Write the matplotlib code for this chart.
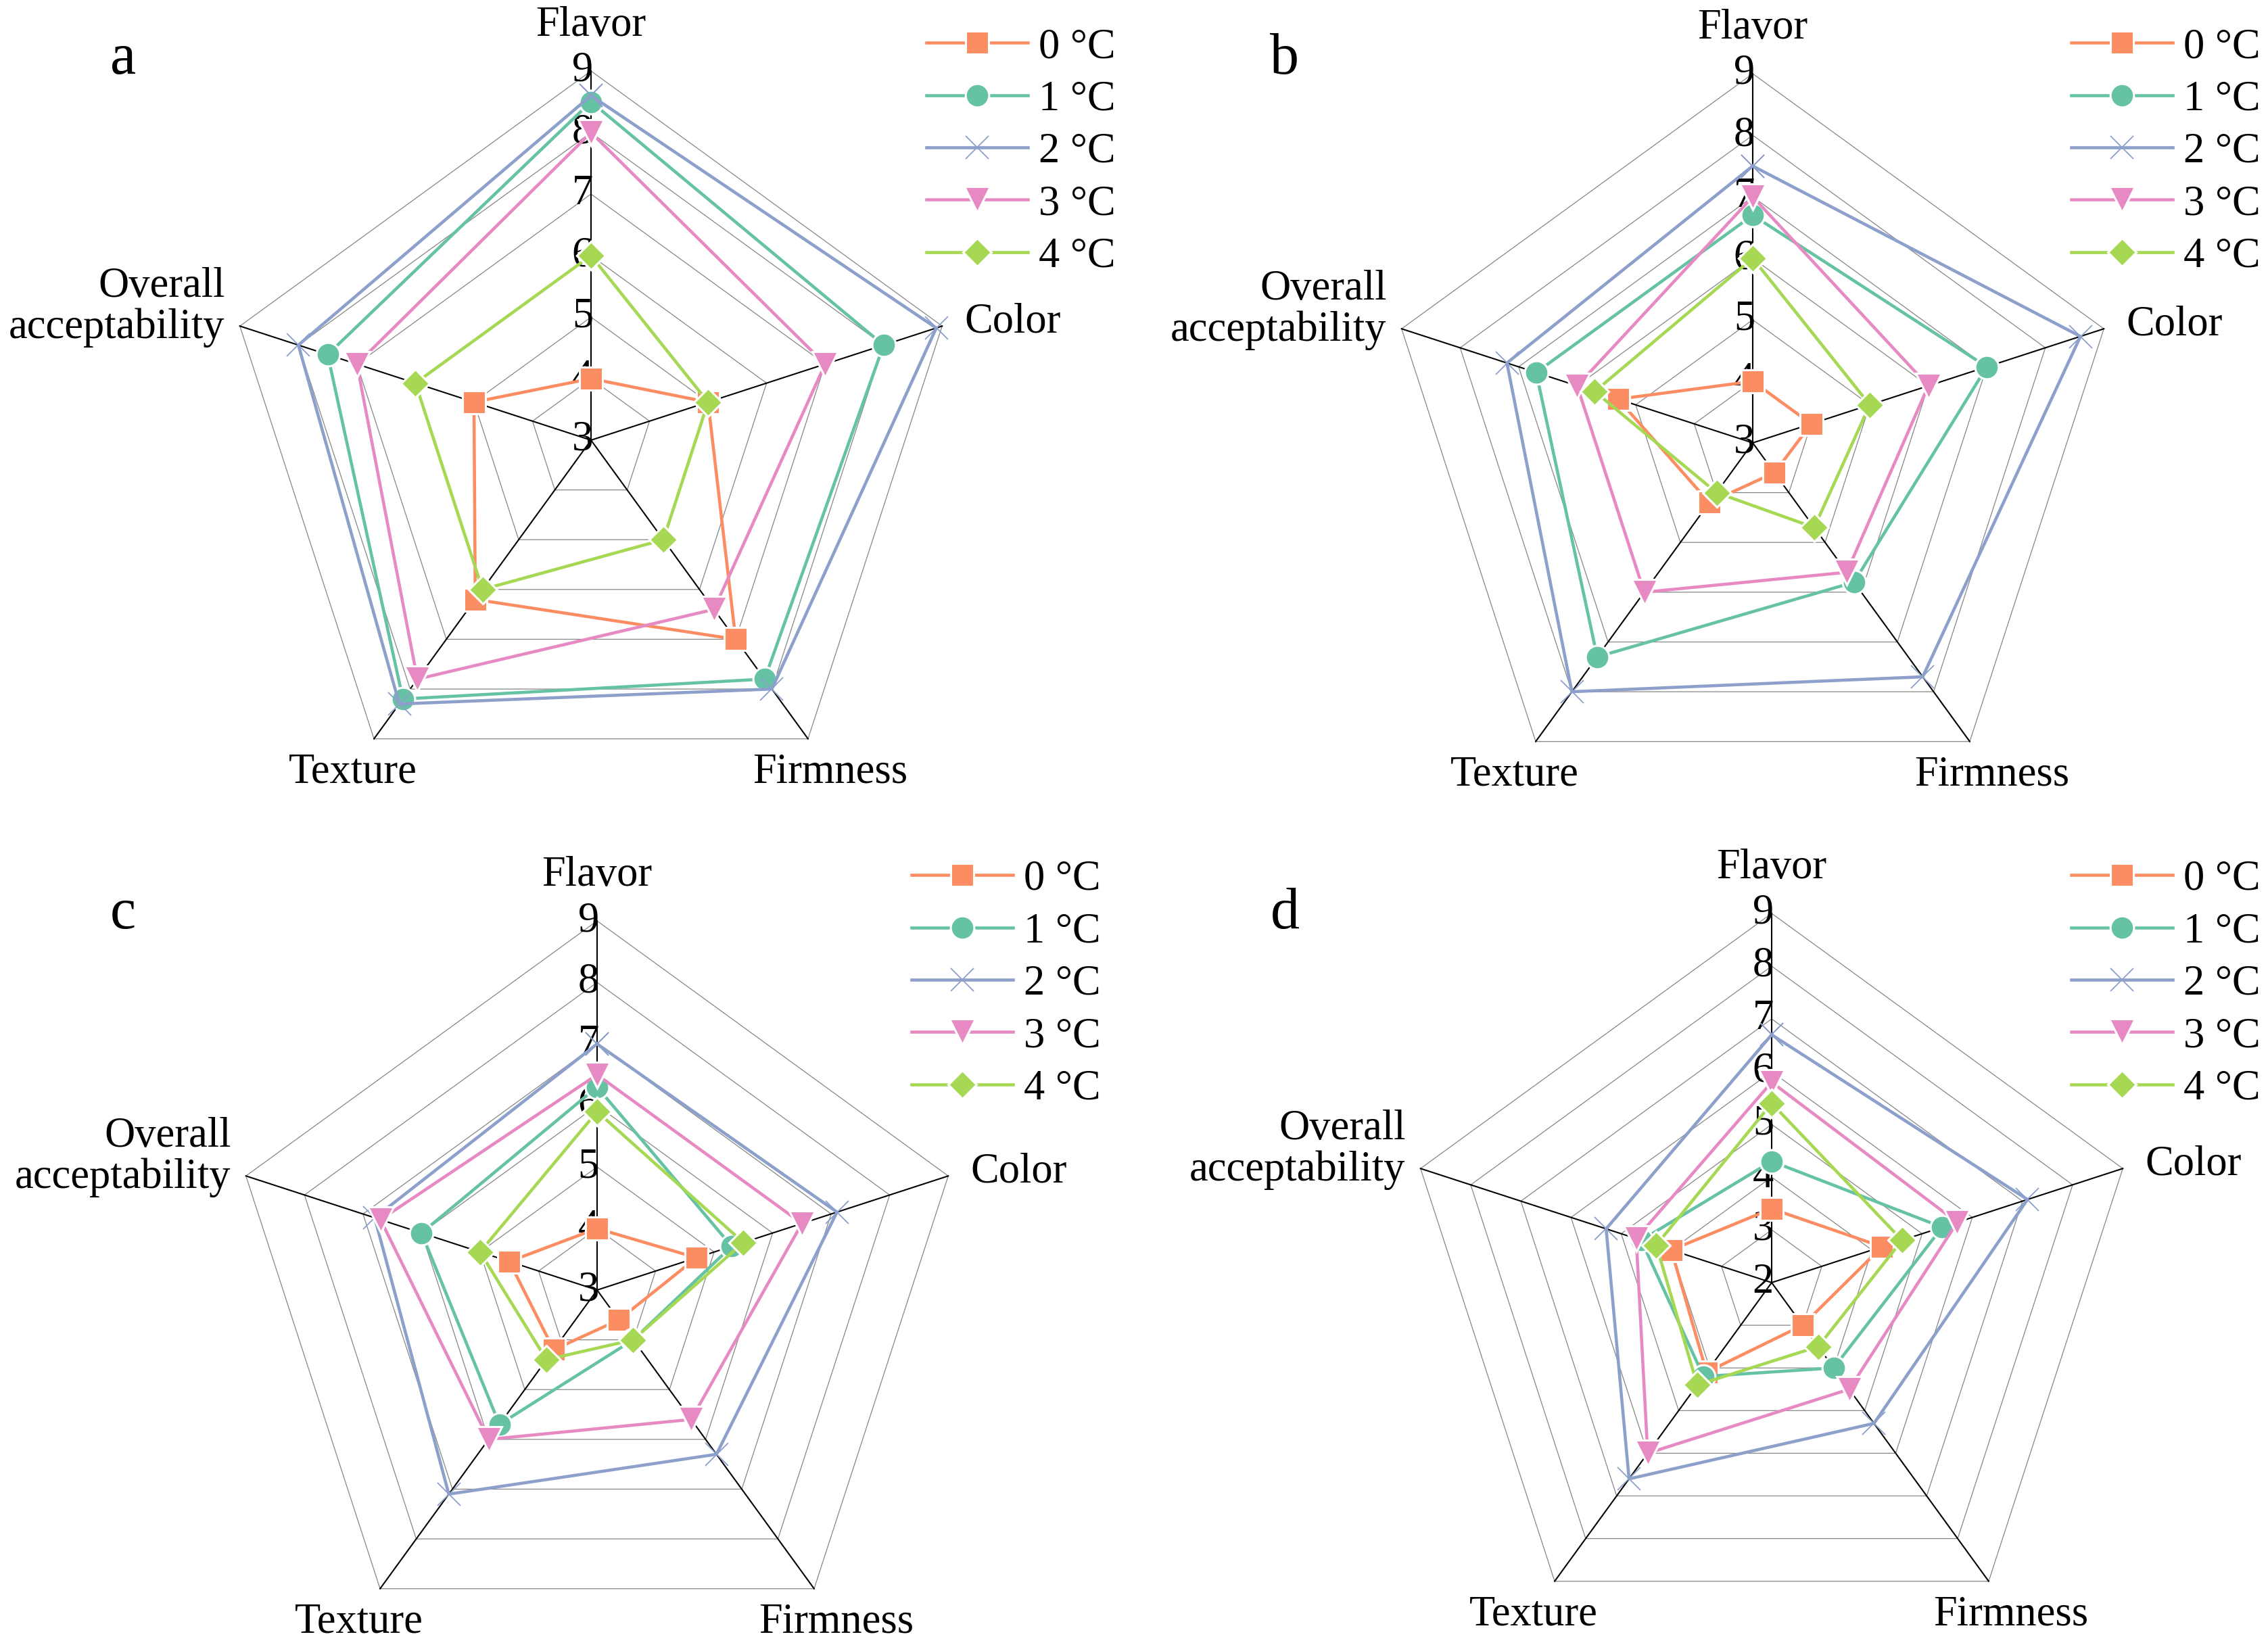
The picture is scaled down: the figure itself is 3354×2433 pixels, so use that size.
import numpy as np
import matplotlib
matplotlib.use('Agg')
import matplotlib.pyplot as plt

FAM = 'Liberation Serif'
plt.rcParams['font.family'] = 'serif'
plt.rcParams['font.serif'] = ['Liberation Serif', 'DejaVu Serif']

categories = ['Flavor', 'Color', 'Firmness', 'Texture', 'Overall\nacceptability']
series_labels = ['0 °C', '1 °C', '2 °C', '3 °C', '4 °C']
colors = ['#FC8D62', '#66C2A5', '#8DA0CB', '#E78AC3', '#A6D854']
markers = ['s', 'o', 'x', 'v', 'D']
panel_letters = ['a', 'b', 'c', 'd']

# values per series: Flavor, Color, Firmness, Texture, Overall acceptability
panel_a = [[4.0, 5.0, 7.0, 6.2, 5.0],
           [8.5, 8.0, 7.8, 8.2, 7.5],
           [8.6, 8.9, 8.0, 8.3, 8.0],
           [8.0, 7.0, 6.4, 7.8, 7.0],
           [6.0, 5.0, 5.0, 6.0, 6.0]]
panel_b = [[4.0, 4.0, 3.6, 4.2, 5.3],
           [6.7, 7.0, 5.8, 7.3, 6.7],
           [7.5, 8.6, 7.7, 8.0, 7.2],
           [7.0, 6.0, 5.6, 6.0, 6.0],
           [6.0, 5.0, 4.7, 4.0, 5.7]]
panel_c = [[4.0, 4.7, 3.6, 4.2, 4.5],
           [6.3, 5.3, 4.0, 5.7, 6.0],
           [7.0, 7.1, 6.3, 7.1, 6.8],
           [6.5, 6.5, 5.6, 6.0, 6.7],
           [5.9, 5.5, 4.0, 4.4, 5.0]]
panel_d = [[3.4, 4.2, 3.0, 4.1, 4.0],
           [4.3, 5.4, 4.0, 4.2, 4.6],
           [6.7, 7.1, 5.3, 6.6, 5.3],
           [5.8, 5.7, 4.5, 6.0, 4.7],
           [5.4, 4.6, 3.5, 4.4, 4.3]]
panels = [panel_a, panel_b, panel_c, panel_d]
r_min = [3, 3, 3, 2]
r_max = 9

W, H = 3354, 2433
DPI = 100
px = 72.0 / DPI  # points per pixel

fig = plt.figure(figsize=(W / DPI, H / DPI), dpi=DPI)

centers = [(874, 651), (2592, 655), (883, 1908), (2620, 1897)]
R = 546
legend_pos = [(1370, 41), (3063, 41), (1348, 1272), (3063, 1272)]
letter_pos = [(182, 88), (1900, 88), (182, 1352), (1900, 1352)]

FS = 45
theta = np.arange(5) * 2 * np.pi / 5
theta_c = np.append(theta, theta[0])

label_offsets = [((0, 67), 'center', 'center'),
                 ((33, 6), 'left', 'center'),
                 ((33, -50), 'center', 'center'),
                 ((-31, -50), 'center', 'center'),
                 ((-22, 28), 'right', 'center')]

ms = {'s': 24, 'o': 25, 'x': 24, 'v': 28, 'D': 21}
LW = 3.3

for k, (data, (cx, cy)) in enumerate(zip(panels, centers)):
    ax = fig.add_axes([(cx - R) / W, 1 - (cy + R) / H, 2 * R / W, 2 * R / H],
                      projection='polar')
    ax.set_theta_offset(np.pi / 2)
    ax.set_theta_direction(-1)
    ax.set_ylim(r_min[k], r_max)
    ax.set_axis_off()

    for lvl in range(r_min[k] + 1, r_max + 1):
        ax.plot(theta_c, [lvl] * 6, color='#868686', lw=0.9, zorder=1,
                clip_on=False)
    for t in theta:
        ax.plot([t, t], [r_min[k], r_max], color='black', lw=1.5, zorder=1.2,
                clip_on=False)

    for lvl in range(r_min[k], r_max + 1):
        ax.annotate(str(lvl), xy=(0, lvl), xytext=(3 * px, 0),
                    textcoords='offset points', ha='right', va='center',
                    fontsize=FS, family=FAM, zorder=1.5)

    for i, (cat, (off, ha, va)) in enumerate(zip(categories, label_offsets)):
        ax.annotate(cat, xy=(theta[i], r_max),
                    xytext=(off[0] * px, off[1] * px),
                    textcoords='offset points', ha=ha, va=va,
                    multialignment='right', fontsize=FS, family=FAM,
                    linespacing=1.05)

    handles = []
    for j, vals in enumerate(data):
        m = markers[j]
        vv = np.append(vals, vals[0])
        if m == 'x':
            ln, = ax.plot(theta_c, vv, color=colors[j], lw=LW, marker=m,
                          ms=ms[m], mew=1.3, zorder=3 + j, clip_on=False,
                          label=series_labels[j])
        else:
            ln, = ax.plot(theta_c, vv, color=colors[j], lw=LW, marker=m,
                          ms=ms[m], mfc=colors[j], mec='white', mew=2.2,
                          zorder=3 + j, clip_on=False, label=series_labels[j])
        handles.append(ln)

    lx, ly = legend_pos[k]
    fig.legend(handles=handles, labels=series_labels, loc='upper left',
               bbox_to_anchor=(lx / W, 1 - ly / H), frameon=False,
               prop={'family': FAM, 'size': FS}, handlelength=2.4,
               handletextpad=0.25, labelspacing=0.31, borderpad=0,
               borderaxespad=0, numpoints=1)

    fig.text(letter_pos[k][0] / W, 1 - letter_pos[k][1] / H, panel_letters[k],
             ha='center', va='center', fontsize=62, family=FAM)

fig.savefig('out.png', dpi=DPI)
